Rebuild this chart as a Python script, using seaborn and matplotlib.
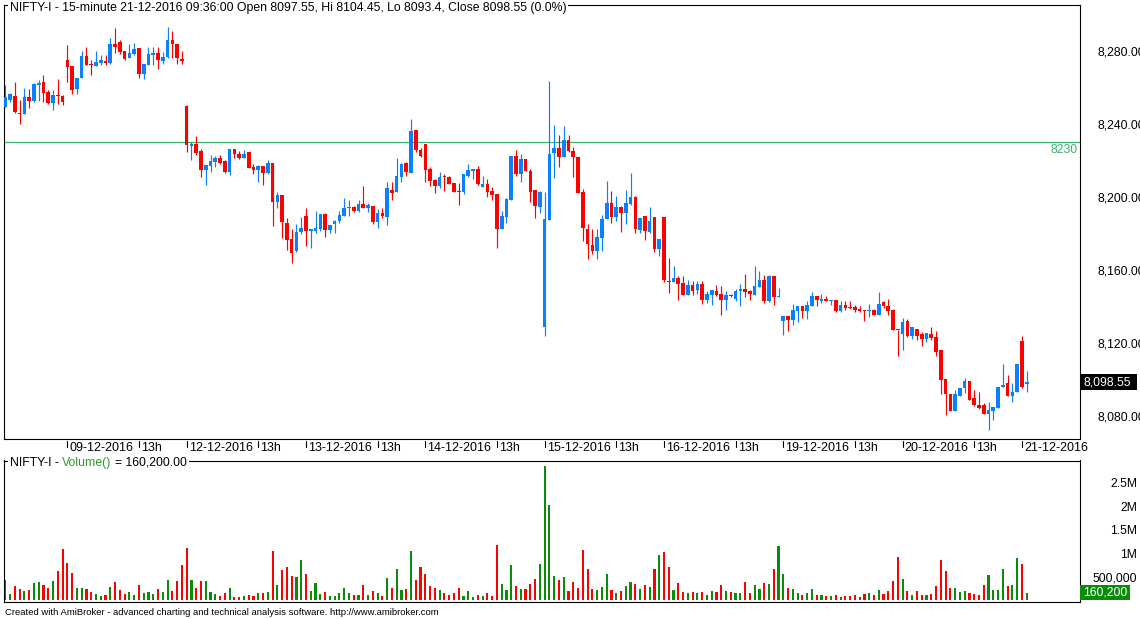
import numpy as np
import pandas as pd
import matplotlib
matplotlib.use("Agg")
import matplotlib.pyplot as plt
import matplotlib.transforms as mtrans
from matplotlib.patches import Rectangle
import seaborn as sns

# ---------------- data (15-minute NIFTY-I bars, 08-12 12:15 .. 21-12 09:30) ----------------
opens = [
    8249.1, 8253.0, 8255.0, 8246.0, 8245.1, 8254.6, 8252.4, 8261.0, 8262.8, 8257.3,
    8251.3, 8255.9, 8254.9, 8274.6, 8271.5, 8259.1, 8265.0, 8276.8, 8272.4, 8271.5,
    8273.1, 8274.0, 8273.1, 8283.3, 8284.6, 8279.5, 8276.0, 8278.2, 8281.3, 8267.3,
    8272.2, 8277.7, 8278.6, 8274.0, 8276.4, 8285.5, 8283.3, 8275.5, 8249.4, 8228.0,
    8229.0, 8224.9, 8214.5, 8216.7, 8219.0, 8221.2, 8219.4, 8213.6, 8226.3, 8223.6,
    8221.4, 8224.2, 8216.3, 8214.5, 8216.7, 8213.1, 8218.5, 8197.3, 8200.9, 8185.4,
    8176.7, 8170.3, 8180.7, 8189.4, 8181.4, 8181.4, 8182.3, 8190.5, 8181.8, 8184.9,
    8186.9, 8189.6, 8193.6, 8194.5, 8192.3, 8196.0, 8194.0, 8194.9, 8186.3, 8190.9,
    8189.1, 8203.7, 8202.7, 8210.9, 8218.2, 8213.1, 8236.7, 8225.5, 8228.7, 8215.1,
    8209.1, 8205.8, 8210.9, 8210.9, 8207.6, 8203.3, 8202.7, 8211.3, 8214.0, 8215.1,
    8205.5, 8206.9, 8203.1, 8201.5, 8182.4, 8189.1, 8198.2, 8222.2, 8212.4, 8220.6,
    8214.2, 8203.6, 8194.6, 8128.7, 8187.3, 8224.0, 8226.9, 8221.8, 8231.3, 8225.0,
    8221.8, 8202.7, 8182.4, 8173.6, 8170.5, 8177.6, 8187.8, 8196.7, 8189.1, 8194.2,
    8191.3, 8196.0, 8199.6, 8181.8, 8189.5, 8180.9, 8188.7, 8171.4, 8188.7, 8154.0,
    8153.1, 8155.5, 8152.7, 8146.4, 8151.8, 8148.7, 8152.4, 8143.3, 8146.4, 8148.5,
    8146.9, 8143.3, 8146.4, 8144.2, 8148.2, 8149.6, 8148.2, 8146.4, 8150.5, 8154.5,
    8143.1, 8156.4, 8144.9, 8131.8, 8134.9, 8132.7, 8137.6, 8140.4, 8137.6, 8140.4,
    8145.8, 8143.1, 8144.2, 8142.7, 8143.6, 8137.6, 8140.9, 8139.6, 8139.6, 8138.7,
    8138.2, 8137.3, 8138.2, 8135.5, 8142.2, 8140.4, 8138.2, 8127.3, 8124.9, 8132.2,
    8123.6, 8127.8, 8124.9, 8122.2, 8125.1, 8123.3, 8116.0, 8100.0, 8091.8, 8082.7,
    8090.9, 8095.4, 8099.4, 8089.6, 8086.3, 8085.8, 8080.9, 8082.7, 8084.2, 8095.8,
    8098.1, 8090.9, 8093.3, 8120.9, 8097.55]

highs = [
    8260.9, 8257.0, 8262.8, 8252.8, 8259.7, 8259.0, 8262.0, 8263.7, 8266.4, 8258.6,
    8258.6, 8264.6, 8255.5, 8282.8, 8271.5, 8265.1, 8280.0, 8281.8, 8274.6, 8279.5,
    8277.3, 8277.3, 8286.9, 8292.2, 8285.5, 8279.5, 8283.7, 8284.0, 8281.3, 8272.4,
    8281.8, 8281.8, 8281.8, 8279.1, 8292.8, 8290.4, 8283.3, 8280.0, 8250.0, 8229.7,
    8233.0, 8226.3, 8217.2, 8222.7, 8222.2, 8222.7, 8220.0, 8226.3, 8226.3, 8224.9,
    8225.8, 8224.2, 8217.8, 8217.2, 8216.7, 8220.0, 8218.5, 8202.7, 8200.9, 8188.2,
    8182.2, 8184.9, 8188.7, 8193.6, 8182.3, 8192.2, 8190.5, 8190.9, 8184.5, 8187.3,
    8192.2, 8199.4, 8198.2, 8194.9, 8198.2, 8205.8, 8196.7, 8194.9, 8193.2, 8193.7,
    8208.2, 8208.2, 8221.3, 8218.6, 8219.1, 8242.7, 8236.7, 8226.4, 8228.7, 8216.0,
    8209.6, 8213.5, 8212.2, 8211.3, 8207.6, 8207.6, 8212.4, 8217.8, 8215.1, 8216.7,
    8211.3, 8209.6, 8205.5, 8201.5, 8192.2, 8199.5, 8222.2, 8225.8, 8223.3, 8220.6,
    8215.1, 8203.6, 8203.3, 8202.4, 8263.3, 8239.1, 8233.6, 8238.6, 8233.6, 8227.0,
    8221.8, 8204.0, 8185.1, 8182.4, 8182.4, 8190.0, 8208.5, 8203.1, 8200.4, 8194.9,
    8203.6, 8213.1, 8200.5, 8188.2, 8189.5, 8194.5, 8188.7, 8176.9, 8188.7, 8166.4,
    8162.2, 8156.4, 8156.4, 8154.5, 8154.0, 8154.0, 8154.0, 8148.2, 8148.7, 8151.8,
    8151.3, 8148.5, 8146.9, 8149.5, 8152.4, 8157.8, 8149.1, 8162.2, 8159.6, 8157.3,
    8157.3, 8156.4, 8150.0, 8134.9, 8134.9, 8141.4, 8140.4, 8140.4, 8143.1, 8147.8,
    8145.8, 8146.9, 8145.5, 8143.6, 8143.6, 8143.1, 8142.7, 8142.7, 8140.9, 8140.4,
    8138.2, 8141.4, 8138.5, 8147.6, 8142.7, 8144.0, 8138.5, 8127.3, 8133.6, 8133.1,
    8128.7, 8127.8, 8125.8, 8125.5, 8128.7, 8126.4, 8116.3, 8100.0, 8092.2, 8094.5,
    8095.4, 8100.9, 8099.4, 8094.0, 8093.1, 8087.2, 8087.8, 8084.9, 8096.0, 8108.2,
    8102.7, 8098.1, 8108.2, 8124.0, 8104.45]

lows = [
    8249.0, 8252.0, 8245.9, 8239.7, 8245.0, 8248.8, 8252.0, 8252.4, 8251.8, 8250.6,
    8247.7, 8251.0, 8250.0, 8262.8, 8256.0, 8256.0, 8265.0, 8271.9, 8266.4, 8271.5,
    8271.9, 8272.2, 8272.8, 8278.8, 8278.2, 8274.9, 8276.0, 8277.8, 8265.1, 8264.2,
    8272.2, 8271.9, 8270.0, 8272.8, 8276.0, 8276.0, 8272.4, 8272.8, 8224.5, 8220.0,
    8222.7, 8210.9, 8206.3, 8213.6, 8216.3, 8218.1, 8213.1, 8211.8, 8221.4, 8220.5,
    8221.4, 8215.8, 8212.3, 8208.2, 8206.3, 8212.3, 8184.0, 8193.6, 8177.6, 8170.9,
    8163.6, 8170.0, 8179.6, 8173.1, 8172.2, 8180.0, 8181.3, 8178.2, 8180.3, 8180.3,
    8185.8, 8189.6, 8189.6, 8191.8, 8191.8, 8193.6, 8191.8, 8185.0, 8183.0, 8188.2,
    8184.6, 8198.2, 8202.7, 8208.2, 8211.3, 8213.1, 8224.6, 8221.5, 8208.2, 8205.8,
    8202.2, 8204.6, 8203.3, 8206.9, 8202.7, 8195.5, 8201.5, 8210.9, 8209.6, 8206.4,
    8205.5, 8200.0, 8198.2, 8172.2, 8182.4, 8185.8, 8198.2, 8211.3, 8208.2, 8214.0,
    8197.3, 8188.6, 8191.3, 8123.7, 8187.3, 8210.0, 8216.0, 8221.8, 8224.6, 8210.9,
    8201.8, 8176.0, 8166.0, 8168.7, 8166.0, 8170.5, 8187.8, 8185.8, 8186.9, 8180.9,
    8185.1, 8195.5, 8180.4, 8180.4, 8176.4, 8180.4, 8170.0, 8167.3, 8153.1, 8147.3,
    8153.1, 8143.6, 8146.4, 8146.4, 8146.0, 8146.9, 8141.3, 8141.8, 8140.5, 8145.8,
    8135.1, 8138.2, 8144.9, 8142.7, 8140.0, 8144.9, 8143.3, 8146.4, 8150.5, 8141.8,
    8142.4, 8140.9, 8144.9, 8124.5, 8126.4, 8130.0, 8131.3, 8133.6, 8133.3, 8140.4,
    8140.4, 8141.8, 8142.7, 8140.5, 8136.7, 8136.7, 8138.2, 8138.5, 8136.7, 8136.9,
    8131.8, 8134.0, 8135.1, 8135.5, 8139.1, 8135.5, 8126.9, 8112.7, 8116.0, 8123.3,
    8122.2, 8121.8, 8118.2, 8120.5, 8121.8, 8112.7, 8092.3, 8080.3, 8082.7, 8082.7,
    8090.9, 8092.7, 8088.5, 8085.5, 8083.6, 8080.9, 8072.2, 8077.8, 8084.2, 8095.8,
    8090.9, 8087.6, 8093.3, 8095.4, 8093.4]

closes = [
    8254.5, 8256.0, 8246.4, 8245.3, 8254.6, 8252.4, 8261.5, 8262.2, 8256.8, 8251.3,
    8255.5, 8255.3, 8251.9, 8270.9, 8258.2, 8265.1, 8276.8, 8271.9, 8272.0, 8273.7,
    8274.6, 8273.3, 8283.3, 8281.8, 8279.1, 8275.5, 8278.6, 8281.0, 8267.3, 8272.4,
    8278.2, 8278.6, 8274.6, 8276.4, 8285.5, 8283.7, 8276.0, 8274.0, 8228.5, 8229.0,
    8224.0, 8214.5, 8217.2, 8219.4, 8221.2, 8218.7, 8213.6, 8226.3, 8223.2, 8221.4,
    8223.6, 8215.8, 8214.5, 8216.7, 8213.1, 8218.2, 8197.3, 8200.9, 8186.3, 8176.3,
    8169.1, 8180.5, 8182.7, 8181.4, 8182.3, 8182.7, 8190.5, 8181.8, 8184.5, 8186.9,
    8190.0, 8194.0, 8194.5, 8192.3, 8196.0, 8193.6, 8195.4, 8186.3, 8190.9, 8189.3,
    8204.6, 8202.2, 8211.3, 8217.8, 8213.6, 8235.8, 8225.5, 8222.2, 8214.6, 8208.7,
    8206.0, 8210.9, 8210.6, 8206.9, 8202.7, 8202.7, 8212.4, 8214.6, 8215.1, 8206.9,
    8206.9, 8202.7, 8200.9, 8182.4, 8189.5, 8198.7, 8222.2, 8212.4, 8220.6, 8214.0,
    8202.7, 8194.9, 8202.4, 8187.6, 8223.6, 8226.9, 8221.8, 8231.3, 8225.1, 8221.5,
    8201.8, 8182.7, 8174.2, 8170.5, 8177.8, 8187.8, 8196.7, 8189.1, 8194.2, 8191.3,
    8196.7, 8199.6, 8182.4, 8188.2, 8181.5, 8186.7, 8171.4, 8176.9, 8154.6, 8153.1,
    8155.5, 8152.4, 8146.4, 8151.8, 8148.2, 8152.4, 8143.3, 8146.9, 8148.7, 8146.4,
    8143.3, 8146.4, 8145.5, 8148.5, 8149.6, 8147.6, 8146.7, 8151.3, 8154.5, 8142.7,
    8156.7, 8144.9, 8145.8, 8134.9, 8132.4, 8138.2, 8140.4, 8137.6, 8140.9, 8145.8,
    8143.3, 8144.2, 8143.1, 8143.6, 8137.6, 8140.9, 8139.1, 8139.1, 8138.2, 8137.6,
    8137.3, 8138.2, 8135.5, 8141.4, 8140.0, 8137.6, 8126.9, 8126.9, 8131.6, 8123.6,
    8128.7, 8124.0, 8122.4, 8125.5, 8122.7, 8114.9, 8099.6, 8091.8, 8082.7, 8091.8,
    8095.4, 8099.4, 8088.7, 8085.8, 8084.5, 8080.9, 8083.1, 8084.9, 8096.0, 8097.2,
    8090.9, 8093.3, 8108.2, 8096.0, 8098.55]

volumes = [
    425000, 128000, 305000, 234000, 191000, 213000, 362000, 383000, 319000, 255000,
    404000, 617000, 1085000, 787000, 574000, 255000, 255000, 234000, 170000, 128000,
    85000, 106000, 277000, 383000, 213000, 128000, 170000, 106000, 319000, 149000,
    170000, 128000, 234000, 170000, 425000, 191000, 404000, 745000, 1106000, 425000,
    255000, 404000, 404000, 170000, 128000, 85000, 149000, 255000, 64000, 64000,
    85000, 106000, 85000, 149000, 149000, 170000, 1042000, 319000, 638000, 702000,
    511000, 489000, 851000, 553000, 191000, 362000, 128000, 170000, 85000, 85000,
    149000, 255000, 149000, 106000, 106000, 319000, 106000, 191000, 149000, 85000,
    468000, 255000, 660000, 213000, 234000, 1042000, 425000, 702000, 553000, 298000,
    255000, 213000, 149000, 106000, 149000, 255000, 85000, 191000, 64000, 106000,
    85000, 149000, 85000, 1170000, 340000, 213000, 745000, 298000, 234000, 234000,
    340000, 447000, 766000, 2851000, 2021000, 511000, 425000, 489000, 191000, 383000,
    255000, 1064000, 660000, 234000, 213000, 277000, 553000, 213000, 149000, 191000,
    298000, 383000, 340000, 234000, 319000, 277000, 660000, 957000, 1021000, 702000,
    213000, 362000, 170000, 149000, 170000, 149000, 170000, 106000, 191000, 170000,
    319000, 191000, 170000, 149000, 149000, 380000, 149000, 319000, 234000, 362000,
    340000, 660000, 1149000, 553000, 255000, 234000, 149000, 106000, 149000, 234000,
    106000, 106000, 85000, 85000, 106000, 64000, 85000, 85000, 106000, 64000,
    128000, 149000, 106000, 213000, 128000, 191000, 404000, 915000, 447000, 191000,
    106000, 191000, 106000, 106000, 128000, 298000, 851000, 617000, 255000, 255000,
    170000, 191000, 149000, 128000, 106000, 319000, 532000, 213000, 213000, 660000,
    298000, 319000, 894000, 766000, 160200]

day_labels = ["09-12-2016", "12-12-2016", "13-12-2016", "14-12-2016", "15-12-2016",
              "16-12-2016", "19-12-2016", "20-12-2016", "21-12-2016"]
day_start_bars = [13, 38, 63, 88, 113, 138, 163, 188, 213]
hour_label = "13h"
hour_bars = [28, 53, 78, 103, 128, 153, 178, 203]
price_ticks = [8080, 8120, 8160, 8200, 8240, 8280]
volume_ticks = [500000, 1000000, 1500000, 2000000, 2500000]
volume_tick_labels = ["500,000", "1M", "1.5M", "2M", "2.5M"]
ref_level = 8230
title_text = ("NIFTY-I - 15-minute 21-12-2016 09:36:00 Open 8097.55, Hi 8104.45, "
              "Lo 8093.4, Close 8098.55 (0.0%)")
credit_text = ("Created with AmiBroker - advanced charting and technical analysis "
               "software. http://www.amibroker.com")

n = len(opens)
assert n == len(highs) == len(lows) == len(closes) == len(volumes) == 215

# ---------------- styling ----------------
sns.set_style("white")
plt.rcParams["font.family"] = ["Liberation Sans", "DejaVu Sans"]

BLUE = "#0A80FF"
RED = "#FF0000"
VGREEN = "#0A8C0A"
LINE_GREEN = "#3CB371"

W, H = 1140, 619
fig = plt.figure(figsize=(W / 100, H / 100), dpi=100)
fig.patch.set_facecolor("white")


def fx(px):
    return px / W


def fy(py):
    return 1 - py / H


L_PX, R_PX = 4, 1079.5
ax = fig.add_axes([fx(L_PX), fy(438.5), fx(R_PX) - fx(L_PX), fy(5) - fy(438.5)])
axv = fig.add_axes([fx(L_PX), fy(601.5), fx(R_PX) - fx(L_PX), fy(460.5) - fy(601.5)])

step = 4.773
x_lo = (L_PX - 5.3) / step
x_hi = (R_PX - 5.3) / step

df = pd.DataFrame({"bar": np.arange(n), "open": opens, "high": highs,
                   "low": lows, "close": closes, "volume": volumes})
df["dir"] = np.where(df["close"] >= df["open"], "up", "down")
cols = np.where(df["dir"] == "up", BLUE, RED)

# ---------------- price panel ----------------
ax.vlines(df["bar"], df["low"], df["high"], colors=cols, linewidth=0.85, zorder=2)
body_bottom = np.minimum(df["open"], df["close"])
body_h = np.maximum((df["close"] - df["open"]).abs(), 0.55)
ax.bar(df["bar"], body_h, bottom=body_bottom, width=0.76, color=cols,
       linewidth=0, zorder=3)

ax.axhline(ref_level, color=LINE_GREEN, linewidth=0.9, zorder=1)
trans_ay = mtrans.blended_transform_factory(ax.transAxes, ax.transData)
ax.text(0.9985, ref_level - 1.0, f"{ref_level}", transform=trans_ay, ha="right",
        va="top", color=LINE_GREEN, fontsize=8.7)

ax.set_xlim(x_lo, x_hi)
ax.set_ylim(8067.7, 8304.9)
ax.set_xticks([])
ax.yaxis.tick_right()
ax.set_yticks(price_ticks)
ax.set_yticklabels([f"{v:,.2f}" for v in price_ticks])
ax.tick_params(axis="y", length=0, pad=12.8, labelsize=8.7, colors="black")
for s in ax.spines.values():
    s.set_visible(True)
    s.set_color("black")
    s.set_linewidth(0.8)

# last price box
last_close = closes[-1]
box_h = 16 / 1.8275
ax.add_patch(Rectangle((1.0012, last_close - box_h / 2), 56 / (R_PX - L_PX), box_h,
                       transform=trans_ay, facecolor="black", edgecolor="none",
                       clip_on=False, zorder=5))
ax.text(1.0035, last_close, f"{last_close:,.2f}", transform=trans_ay, ha="left",
        va="center", color="white", fontsize=8.7, clip_on=False, zorder=6)

# date / hour labels under the price panel
trans_ax = mtrans.blended_transform_factory(ax.transData, ax.transAxes)
ph = 438.5 - 5
for b, lab in list(zip(day_start_bars, day_labels)) + [(h, hour_label) for h in hour_bars]:
    ax.plot([b, b], [(438.5 - 440.8) / ph, (438.5 - 447) / ph], transform=trans_ax,
            color="black", linewidth=0.8, clip_on=False)
    ax.text(b + 0.45, (438.5 - 450.7) / ph, lab, transform=trans_ax, ha="left",
            va="baseline", fontsize=9, color="black", clip_on=False)

# ---------------- volume panel (seaborn) ----------------
sns.barplot(data=df, x="bar", y="volume", hue="dir",
            palette={"up": VGREEN, "down": RED}, native_scale=True, dodge=False,
            width=0.45, saturation=1, errorbar=None, legend=False, linewidth=0,
            ax=axv)
axv.set_xlim(x_lo, x_hi)
axv.set_ylim(-28000, 2972000)
axv.set_xlabel("")
axv.set_ylabel("")
axv.set_xticks([])
axv.yaxis.tick_right()
axv.set_yticks(volume_ticks)
axv.set_yticklabels(volume_tick_labels)
axv.tick_params(axis="y", length=0, pad=41.6, labelsize=8.7, colors="black")
for lbl in axv.get_yticklabels():
    lbl.set_horizontalalignment("right")
for s in axv.spines.values():
    s.set_visible(True)
    s.set_color("black")
    s.set_linewidth(0.8)

last_vol = volumes[-1]
trans_vy = mtrans.blended_transform_factory(axv.transAxes, axv.transData)
vbox_h = 14.5 / 47.0 * 1e6
axv.add_patch(Rectangle((1.0003, last_vol - vbox_h / 2), 50 / (R_PX - L_PX), vbox_h,
                        transform=trans_vy, facecolor=VGREEN, edgecolor="none",
                        clip_on=False, zorder=5))
axv.text(1.0035, last_vol, f"{last_vol:,.0f}", transform=trans_vy, ha="left",
         va="center", color="white", fontsize=8.7, clip_on=False, zorder=6)

# ---------------- titles ----------------
fig.text(fx(10), fy(10.7), title_text, ha="left", va="baseline", fontsize=8.85,
         color="black", bbox=dict(facecolor="white", edgecolor="none", pad=1.2),
         zorder=10)

fig.canvas.draw()
renderer = fig.canvas.get_renderer()
x_px = 10.0
vol_parts = [("NIFTY-I -", "black"), ("Volume()", "#2E9B2E"), ("= 160,200.00", "black")]
space_px = 3.3
start_px = x_px
for i, (txt, col) in enumerate(vol_parts):
    t = fig.text(fx(x_px), fy(465.6), txt, ha="left", va="baseline", fontsize=8.85,
                 color=col, zorder=11)
    bb = t.get_window_extent(renderer=renderer)
    x_px += bb.width + space_px
fig.add_artist(Rectangle((fx(start_px - 2), fy(468.5)), fx(x_px - start_px + 1),
                         fy(455) - fy(468.5), transform=fig.transFigure,
                         facecolor="white", edgecolor="none", zorder=10))

fig.text(fx(5), fy(615.3), credit_text, ha="left", va="baseline", fontsize=6.8,
         color="black")

fig.savefig("out.png", dpi=100, facecolor="white")
